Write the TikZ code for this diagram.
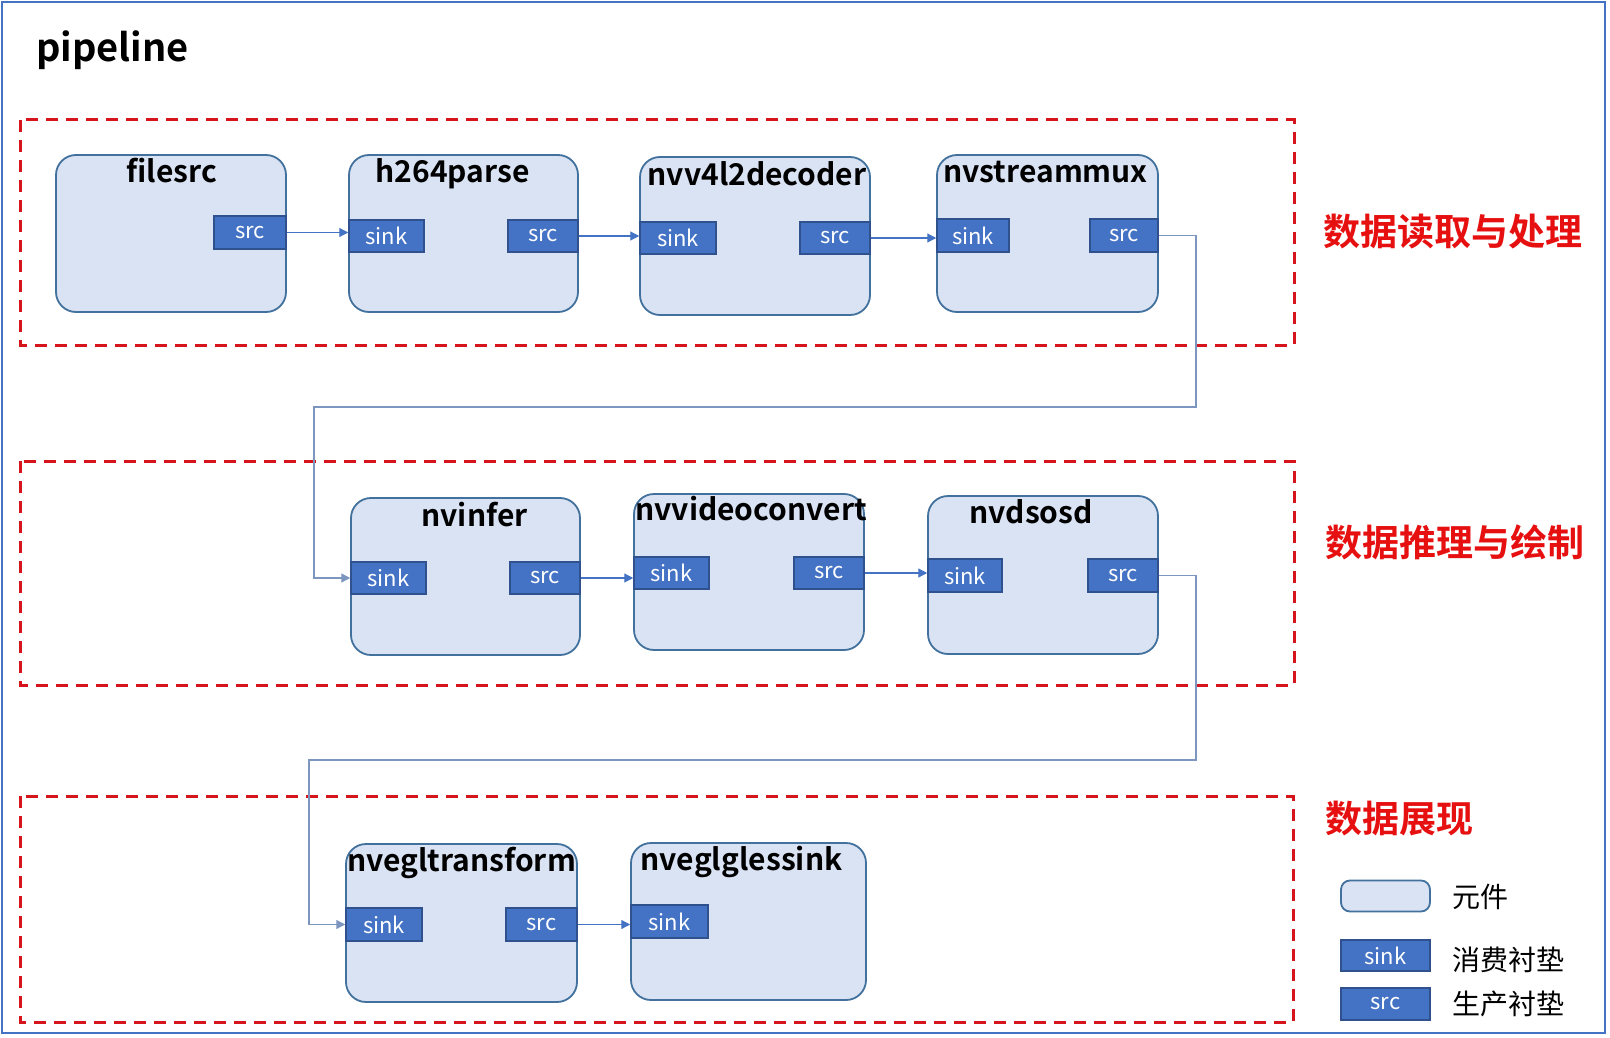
\documentclass[tikz,border=0pt]{standalone}
\usepackage{fontspec}
\setmainfont{Noto Sans CJK SC}[BoldFont={* Bold}]
\usetikzlibrary{arrows.meta,calc}
\definecolor{elemfill}{RGB}{218,227,243}
\definecolor{elemline}{RGB}{65,113,156}
\definecolor{padfill}{RGB}{68,114,196}
\definecolor{padline}{RGB}{47,82,143}
\definecolor{dashred}{RGB}{214,20,28}
\definecolor{labred}{RGB}{230,16,16}
\definecolor{linkblue}{RGB}{68,114,196}
\definecolor{longlink}{RGB}{125,150,192}
\definecolor{frameblue}{RGB}{68,114,196}
\tikzset{
  elem/.style={draw=elemline, fill=elemfill, line width=1.8pt, rounded corners=20pt, inner sep=0pt},
  pad/.style={draw=padline, fill=padfill, line width=1.5pt, inner sep=0pt, minimum height=32pt, text=white, font=\fontsize{22}{22}\selectfont},
  etitle/.style={anchor=base, inner sep=0pt, font=\fontsize{30}{30}\selectfont\bfseries},
  region/.style={draw=dashred, line width=3pt, dash pattern=on 12pt off 8pt},
  redlab/.style={anchor=west, inner sep=0pt, text=labred, font=\fontsize{37}{37}\selectfont\bfseries},
  leglab/.style={anchor=west, inner sep=0pt, font=\fontsize{28}{28}\selectfont},
  link/.style={draw=linkblue, line width=1.2pt, -{Triangle[length=9pt,width=9pt]}},
  longlinkst/.style={draw=longlink, line width=1.3pt, -{Triangle[length=9pt,width=9pt]}}
}
\begin{document}
\begin{tikzpicture}[x=1pt,y=-1pt]
\useasboundingbox (0,0) rectangle (1610,1038);
\fill[white] (0,0) rectangle (1610,1038);
\draw[frameblue, line width=2.5pt] (2,2) rectangle (1605,1033);

\node[anchor=base west, inner sep=0pt, font=\fontsize{38}{38}\selectfont\bfseries] (title) at (36,62) {pipeline};

% regions
\draw[region] (20,120) rectangle (1294,345);
\draw[region] (20,461) rectangle (1294,685);
\draw[region] (20,796) rectangle (1293,1022);

\node[redlab] (lab1) at (1323,232) {数据读取与处理};
\node[redlab] (lab2) at (1325,542) {数据推理与绘制};
\node[redlab] (lab3) at (1325,819) {数据展现};

% row 1
\node[elem, minimum width=230pt, minimum height=157pt] (filesrc) at (171,233.5) {};
\node[etitle] at ($(filesrc.north)+(1,28)$) {filesrc};
\node[pad, minimum width=72pt, minimum height=33pt] (fs_src) at (250,232.5) {src};

\node[elem, minimum width=229pt, minimum height=157pt] (h264) at (463.5,233.5) {};
\node[etitle] at ($(h264.north)+(-11,28)$) {h264parse};
\node[pad, minimum width=75pt] (h2_sink) at (386.5,236) {sink};
\node[pad, minimum width=70pt] (h2_src) at (543,236) {src};

\node[elem, minimum width=230pt, minimum height=158pt] (dec) at (755,236) {};
\node[etitle] at ($(dec.north)+(2,29)$) {nvv4l2decoder};
\node[pad, minimum width=76pt] (dec_sink) at (678,238) {sink};
\node[pad, minimum width=70pt] (dec_src) at (835,238) {src};

\node[elem, minimum width=221pt, minimum height=157pt] (mux) at (1047.5,233.5) {};
\node[etitle] at ($(mux.north)+(-2,28)$) {nvstreammux};
\node[pad, minimum width=72pt, minimum height=33pt] (mux_sink) at (973,235.5) {sink};
\node[pad, minimum width=68pt, minimum height=33pt] (mux_src) at (1124,235.5) {src};

% row 2
\node[elem, minimum width=229pt, minimum height=157pt] (infer) at (465.5,576.5) {};
\node[etitle] at ($(infer.north)+(9,29)$) {nvinfer};
\node[pad, minimum width=75pt] (inf_sink) at (388.5,578) {sink};
\node[pad, minimum width=70pt] (inf_src) at (545,578) {src};

\node[elem, minimum width=230pt, minimum height=156pt] (vconv) at (749,572) {};
\node[etitle] at ($(vconv.north)+(2,27)$) {nvvideoconvert};
\node[pad, minimum width=75pt] (vc_sink) at (671.5,573) {sink};
\node[pad, minimum width=70pt] (vc_src) at (829,573) {src};

\node[elem, minimum width=230pt, minimum height=158pt] (osd) at (1043,575) {};
\node[etitle] at ($(osd.north)+(-12,28)$) {nvdsosd};
\node[pad, minimum width=74pt, minimum height=33pt] (osd_sink) at (965,575.5) {sink};
\node[pad, minimum width=70pt, minimum height=33pt] (osd_src) at (1123,575.5) {src};

% row 3
\node[elem, minimum width=231pt, minimum height=158pt] (trans) at (461.5,923) {};
\node[etitle] at ($(trans.north)+(0,28)$) {nvegltransform};
\node[pad, minimum width=76pt, minimum height=33pt] (tr_sink) at (384,924.5) {sink};
\node[pad, minimum width=71pt, minimum height=33pt] (tr_src) at (541.5,924.5) {src};

\node[elem, minimum width=235pt, minimum height=157pt] (gles) at (748.5,921.5) {};
\node[etitle] at ($(gles.north)+(-7,28)$) {nveglglessink};
\node[pad, minimum width=77pt, minimum height=33pt] (gl_sink) at (669.5,921.5) {sink};

% short links
\draw[link] (fs_src.east) -- (fs_src.east -| h2_sink.west);
\draw[link] (h2_src.east) -- (h2_src.east -| dec_sink.west);
\draw[link] (dec_src.east) -- (dec_src.east -| mux_sink.west);
\draw[link] (inf_src.east) -- (inf_src.east -| vc_sink.west);
\draw[link] (vc_src.east) -- (vc_src.east -| osd_sink.west);
\draw[link] (tr_src.east) -- (tr_src.east -| gl_sink.west);

% long links
\coordinate (t1a) at (1196,407);
\coordinate (t1b) at (314,407);
\draw[longlinkst] (mux_src.east) -| (t1a) -- (t1b) |- (inf_sink.west);
\coordinate (t2a) at (1196,760);
\coordinate (t2b) at (309,760);
\draw[longlinkst] (osd_src.east) -| (t2a) -- (t2b) |- (tr_sink.west);

% legend
\node[elem, rounded corners=9pt, minimum width=89pt, minimum height=31pt] (legelem) at (1385.5,896) {};
\node[leglab] (legelemt) at (1452,897) {元件};
\node[pad, minimum width=89pt, minimum height=31pt] (legsink) at (1385.5,955.5) {sink};
\node[leglab] (legsinkt) at (1452,960) {消费衬垫};
\node[pad, minimum width=89pt, minimum height=32pt] (legsrc) at (1385.5,1004) {src};
\node[leglab] (legsrct) at (1452,1004) {生产衬垫};
\end{tikzpicture}
\end{document}
